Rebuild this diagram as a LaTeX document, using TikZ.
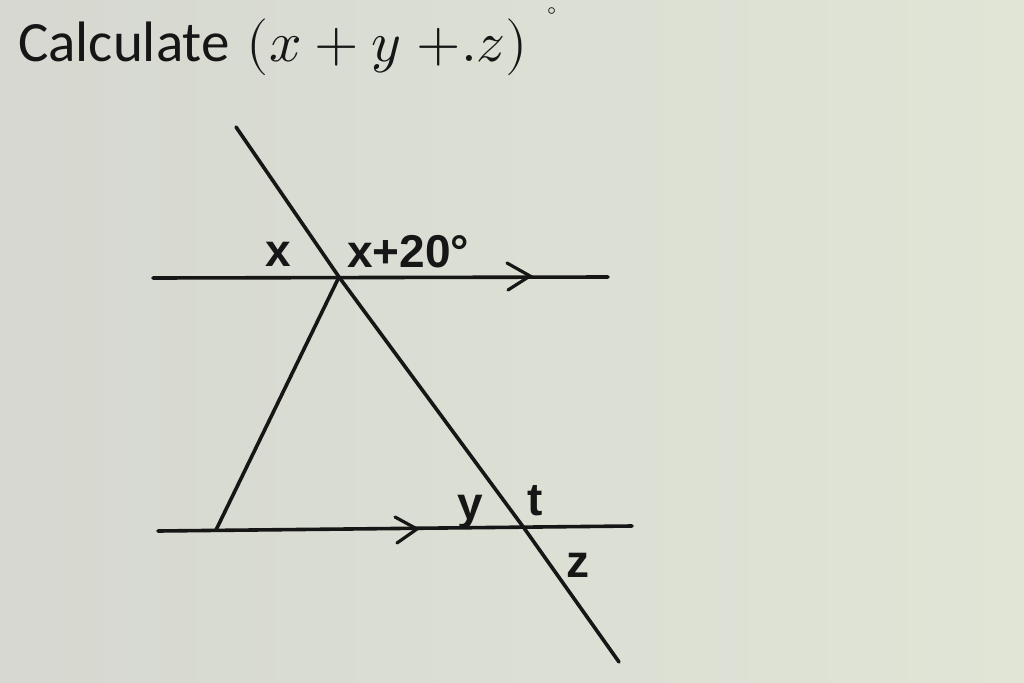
\documentclass[tikz,border=0pt]{standalone}
\usepackage{fontspec}
\usepackage{unicode-math}
\setmathfont{Latin Modern Math}
\newfontfamily\titlefont{Carlito}
\newfontfamily\labfont{Liberation Sans}
\definecolor{bgleft}{RGB}{214,216,209}
\definecolor{bgright}{RGB}{224,229,214}
\definecolor{ink}{RGB}{22,22,22}
\begin{document}
\begin{tikzpicture}[x=1pt,y=-1pt,
  geoline/.style={draw=ink,line width=3.6pt,line cap=round},
  chev/.style={draw=ink,line width=3.2pt,line cap=round,line join=miter},
  lab/.style={inner sep=0pt,anchor=base,text=ink,font=\labfont\bfseries\fontsize{46}{50}\selectfont},
]
\useasboundingbox (0,0) rectangle (1024,682);
\shade[left color=bgleft,right color=bgright] (0,0) rectangle (1024,682);

% title
\node[inner sep=0pt,anchor=base west,text=ink,font=\fontsize{57}{62}\selectfont] (title) at (18,62)
  {{\titlefont Calculate} $(x + y\;{+}.z)$};
\node[inner sep=0pt,text=ink,font=\fontsize{22}{24}\selectfont] (deg) at (552,12) {$\circ$};

% points
\coordinate (T1) at (236,127);
\coordinate (A) at (339,277);
\coordinate (B) at (524,528);
\coordinate (T2) at (619,662);
\coordinate (L1) at (153,278);
\coordinate (R1) at (608,277);
\coordinate (L2) at (158,531);
\coordinate (R2) at (632,526);
\coordinate (C) at (216,530);

% lines
\draw[geoline] (L1) -- (R1);
\draw[geoline] (L2) -- (R2);
\draw[geoline] (T1) -- (A) -- (B) -- (T2);
\draw[geoline] (A) -- (C);

% parallel arrows
\coordinate (a1u) at (507,263);
\coordinate (a1t) at (530,276);
\coordinate (a1d) at (508,290);
\draw[chev] (a1u) -- (a1t) -- (a1d);
\coordinate (a2u) at (395,517);
\coordinate (a2t) at (417,529);
\coordinate (a2d) at (397,543);
\draw[chev] (a2u) -- (a2t) -- (a2d);

% labels
\node[lab] (lx) at (278,266) {x};
\node[lab] (lx20) at (408,267) {x+20°};
\node[lab] (ly) at (470,519) {y};
\node[lab] (lt) at (535,515) {t};
\node[lab] (lz) at (578,577) {z};
\end{tikzpicture}
\end{document}
